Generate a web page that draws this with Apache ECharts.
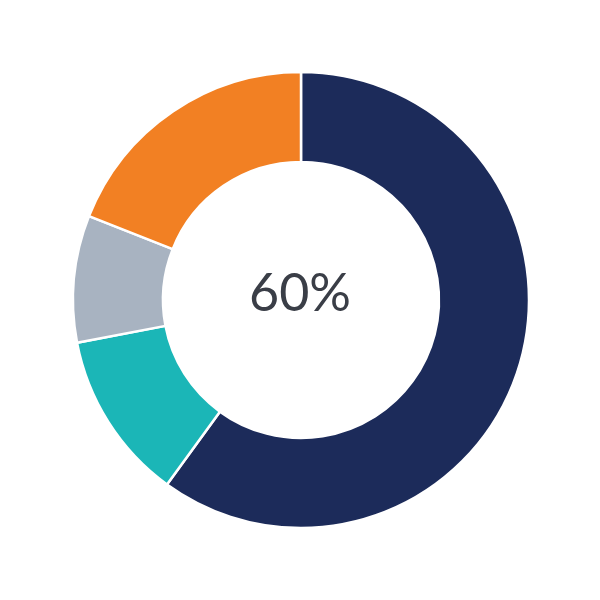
<!DOCTYPE html>
<html><head><meta charset="utf-8">
<script src="https://cdn.jsdelivr.net/npm/echarts@6/dist/echarts.min.js"></script>
<style>html,body{margin:0;padding:0;background:#fff}#c{width:600px;height:600px}</style>
</head><body><div id="c"></div>
<script>
const categories = ['A', 'B', 'C', 'D'];
const values = [60, 12, 9, 19];
const colors = ['#1c2b5a', '#1bb6b7', '#a8b3c1', '#f28023'];
const centerLabel = '60%';

const chart = echarts.init(document.getElementById('c'));
chart.setOption({
  animation: false,
  graphic: [{
    type: 'text', left: 'center', top: 268,
    style: { text: centerLabel, fontFamily: 'Lato', fontWeight: 'normal', fontSize: 52, fill: '#3a3e47' }
  }],
  series: [{
    type: 'pie',
    center: [301, 300],
    radius: [138, 228],
    startAngle: 90,
    clockwise: true,
    label: { show: false },
    labelLine: { show: false },
    itemStyle: { borderColor: '#fff', borderWidth: 2.5 },
    data: categories.map((c, i) => ({ name: c, value: values[i], itemStyle: { color: colors[i] } }))
  }]
});
</script></body></html>
